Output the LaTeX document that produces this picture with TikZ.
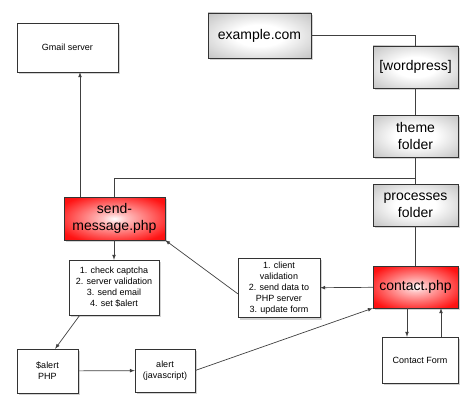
\documentclass[tikz,border=0pt]{standalone}
\usepackage{fontspec}
\setmainfont{Liberation Sans}
\usepackage{tikz}
\usetikzlibrary{arrows,shadows}
\pgfdeclareradialshading{greyglow}{\pgfpointorigin}{color(0bp)=(white); color(12bp)=(white); color(50bp)=(black!38); color(72bp)=(black!50)}
\pgfdeclareradialshading{redglow}{\pgfpointorigin}{color(0bp)=(white); color(6bp)=(red!25); color(30bp)=(red!92); color(50bp)=(red!88!black); color(72bp)=(red!75!black)}
\tikzstyle{folder} = [rectangle, minimum width=85pt, minimum height=42pt, align=center, draw=black!80, font=\fontsize{14}{17}\selectfont, shading=greyglow, drop shadow={shadow xshift=1.5pt, shadow yshift=-2pt, opacity=.35}]
\tikzstyle{script} = [folder, shading=redglow]
\tikzstyle{plain} = [rectangle, align=center, draw=black!80, fill=white, font=\fontsize{9}{11}\selectfont, drop shadow={shadow xshift=1.5pt, shadow yshift=-2pt, opacity=.35}]
\tikzstyle{link} = [draw=black!75, line width=.7pt, -]
\tikzstyle{flow} = [link, -latex]

\begin{document}
\begin{tikzpicture}[x=1pt,y=-1pt,node distance=69pt]
\useasboundingbox (0,0) rectangle (474,412);

\node (example) [folder, minimum width=103pt, minimum height=45pt] at (259.5,35.5) {example.com};
\node (wordpress) [folder] at (415.5,67) {[wordpress]};
\node (theme) [folder, below of=wordpress] {theme\\folder};
\node (procs) [folder, below of=theme] {processes\\folder};
\node (contact) [script, below of=procs, yshift=-13pt] {contact.php};
%
\node (gmail) [plain, minimum width=101pt, minimum height=49pt] at (67.5,47.5) {Gmail server};
\node (sendmsg) [script, minimum width=101pt, minimum height=43pt] at (114.5,218.5) {send-\\message.php};
\node (steps) [plain, minimum width=90pt, minimum height=55pt] at (114,287.5) {1. check captcha\\2. server validation\\3. send email\\4. set \$alert};
\node (alertphp) [plain, minimum width=61pt, minimum height=44pt] at (47.5,371) {\$alert\\PHP};
\node (alertjs) [plain, minimum width=60pt, minimum height=43pt] at (165,370.5) {alert\\(javascript)};
\node (clientval) [plain, minimum width=82pt, minimum height=58pt] at (279,288) {1. client\\validation\\2. send data to\\PHP server\\3. update form};
\node (form) [plain, minimum width=76pt, minimum height=46pt] at (420,360) {Contact Form};
%
\coordinate (branch) at (415.5,178);
%
\draw [link] (example) -| (wordpress);
\draw [link] (wordpress) -- (theme);
\draw [link] (theme) -- (procs);
\draw [link] (procs) -- (contact);
\draw [link] (branch) -| (sendmsg);
	\draw [flow] ([xshift=-34.5pt]sendmsg.north) -- ([xshift=-34.5pt]sendmsg.north |- gmail.south);
	\draw [flow] (sendmsg.south -| steps) -- (steps);
	\draw [flow] (steps.219) -- (alertphp.71);
	\draw [flow] (alertphp) -- (alertjs);
	\draw [flow] (alertjs.east) -- (contact.south west);
	\draw [flow] (contact) -- (clientval);
	\draw [flow] (clientval.188) -- (sendmsg.south east);
	\draw [flow] ([xshift=-8.5pt]contact.south) -- ([xshift=-8.5pt]contact.south |- form.north);
	\draw [flow] ([xshift=25.5pt]contact.south |- form.north) -- ([xshift=25.5pt]contact.south);
\end{tikzpicture}
\end{document}
